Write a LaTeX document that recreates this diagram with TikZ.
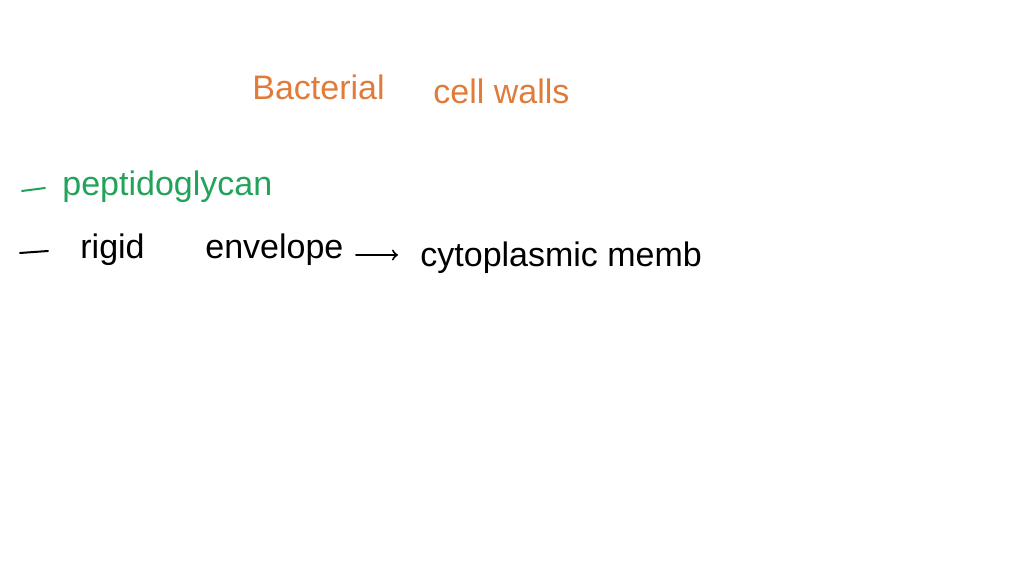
\documentclass[tikz,border=0pt]{standalone}
\usepackage{fontspec}
\setmainfont{Liberation Sans}
\definecolor{pen orange}{HTML}{E07B39}
\definecolor{pen green}{HTML}{22A35A}
\begin{document}
\begin{tikzpicture}[x=0.5pt,y=-0.5pt,
  title/.style={text=pen orange, font=\fontsize{17}{20}\selectfont, anchor=west, inner sep=0},
  body/.style={text=black, font=\fontsize{17}{20}\selectfont, anchor=west, inner sep=0},
  greentext/.style={body, text=pen green},
  dashmark/.style={line width=1pt, line cap=round}]
\useasboundingbox (0,0) rectangle (1024,576);
\node[title] (t1) at (252,87) {Bacterial};
\node[title] (t2) at (433,91) {cell walls};
\coordinate (b1a) at (22,191); \coordinate (b1b) at (45,188);
\draw[dashmark, pen green] (b1a) -- (b1b);
\node[greentext] (p) at (62,187) {peptidoglycan};
\coordinate (b2a) at (20,253); \coordinate (b2b) at (48,251);
\draw[dashmark] (b2a) -- (b2b);
\node[body] (r) at (80,250) {rigid};
\node[body] (e) at (205,250) {envelope};
\node[body] (c) at (420,258) {cytoplasmic memb};
\coordinate (a1) at (356,255); \coordinate (a2) at (398,255);
\draw[dashmark,->] (a1) -- (a2);
\end{tikzpicture}
\end{document}
